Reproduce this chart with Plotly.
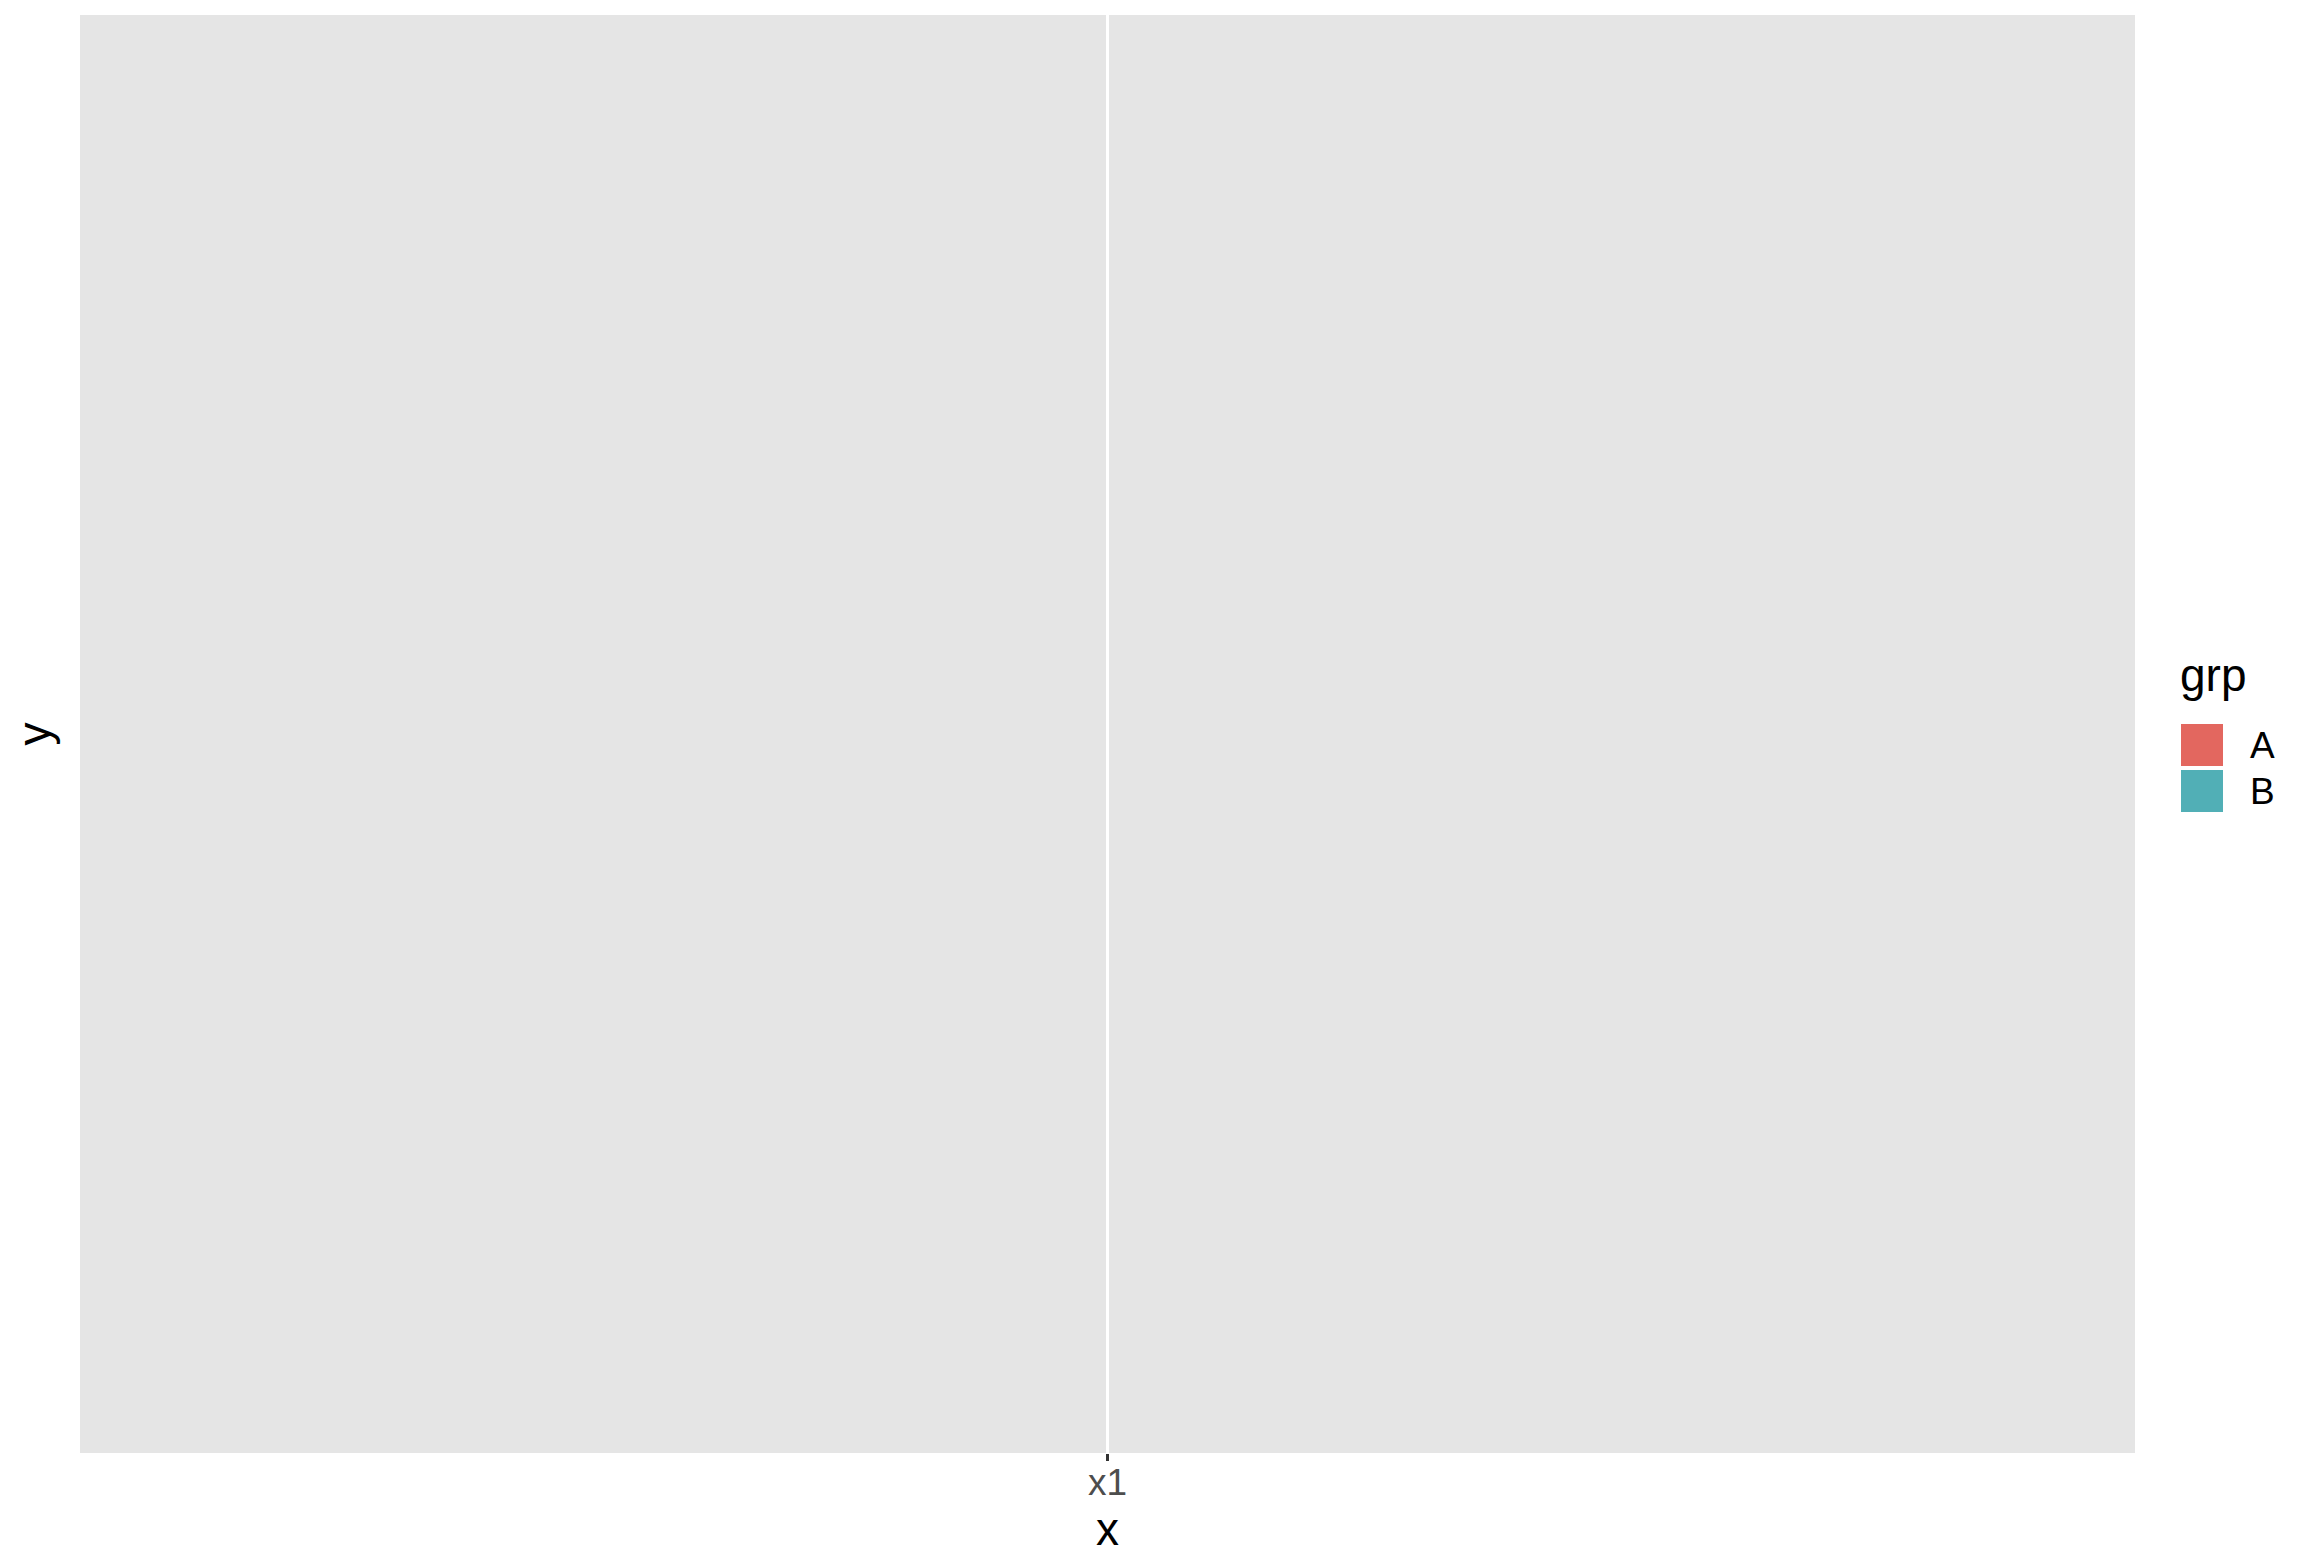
import plotly.graph_objects as go

# data: one category, two groups, no values drawn
categories = ["x1"]
groups = ["A", "B"]
values_a = [None]
values_b = [None]
group_colors = ["#E3675F", "#51AFB6"]

# the page adds an 8px body margin, so the figure is a bit smaller
OFF = 8
W, H = 2304 - OFF, 1568 - OFF
ml, mr, mt, mb = 80 - OFF, 169, 15 - OFF, 115
pw = W - ml - mr
ph = H - mt - mb


# screen pixel -> paper coords
def px_x(x):
    return (x - OFF - ml) / pw


def px_y(y):
    return (H + OFF - mb - y) / ph


fig = go.Figure()
for g, vals, col in zip(groups, [values_a, values_b], group_colors):
    fig.add_trace(go.Bar(x=categories, y=vals, name=g, marker_color=col,
                         showlegend=False))

fig.update_layout(
    width=W, height=H,
    margin=dict(l=ml, r=mr, t=mt, b=mb),
    paper_bgcolor="white",
    plot_bgcolor="#E5E5E5",
    barmode="group",
    font=dict(family="Liberation Sans, Arial, sans-serif", color="black"),
    showlegend=False,
)

fig.update_xaxes(
    type="category",
    categoryarray=categories,
    range=[-0.6, 0.6],
    showgrid=True, gridcolor="white", gridwidth=2.7,
    zeroline=False, showline=False,
    ticks="outside", ticklen=7, tickwidth=2.7, tickcolor="#333333",
    tickfont=dict(size=37, color="#4D4D4D"),
    ticklabelstandoff=-10,
    title=dict(text="x", font=dict(size=46), standoff=6),
)
fig.update_yaxes(
    showgrid=False, zeroline=False, showline=False,
    showticklabels=False, ticks="",
    title=dict(text="y", font=dict(size=46), standoff=20),
)

# legend (ggplot style, big keys)
fig.add_annotation(text="grp", x=px_x(2178), y=px_y(675), xref="paper", yref="paper",
                   xanchor="left", yanchor="middle", showarrow=False,
                   font=dict(size=46, color="black"))
key_top = 724
key_size = 42
key_gap = 4
for i, (g, col) in enumerate(zip(groups, group_colors)):
    y0 = key_top + i * (key_size + key_gap)
    fig.add_shape(type="rect", xref="paper", yref="paper",
                  x0=px_x(2181), x1=px_x(2181 + key_size),
                  y0=px_y(y0 + key_size), y1=px_y(y0),
                  fillcolor=col, line=dict(width=0))
    fig.add_annotation(text=g, x=px_x(2248), y=px_y(y0 + key_size / 2),
                       xref="paper", yref="paper", xanchor="left", yanchor="middle",
                       showarrow=False, font=dict(size=37, color="black"))

fig.write_html("out.html")
